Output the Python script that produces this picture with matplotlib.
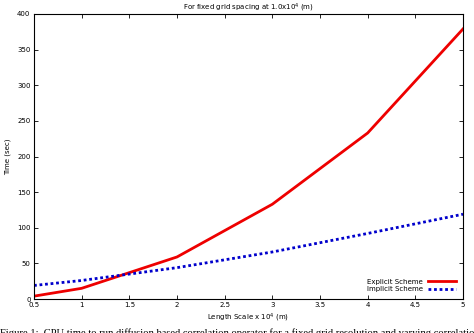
import matplotlib
matplotlib.use("Agg")
import matplotlib.pyplot as plt

length_scale = [0.5, 1, 2, 3, 4, 5]
explicit_time = [4, 15, 59, 133, 233, 379]
implicit_time = [19, 26, 44, 66, 92, 119]

xticks = [0.5, 1, 1.5, 2, 2.5, 3, 3.5, 4, 4.5, 5]
xticklabels = ["0.5", "1", "1.5", "2", "2.5", "3", "3.5", "4", "4.5", "5"]
yticks = [0, 50, 100, 150, 200, 250, 300, 350, 400]

fig = plt.figure(figsize=(4.74, 3.33), dpi=100)
ax = fig.add_axes([34/474, 34/333, 429/474, 285/333])

ax.plot(length_scale, explicit_time, color="#ee0000", lw=2, label="Explicit Scheme")
ax.plot(length_scale, implicit_time, color="#0000cc", lw=2, ls=(0, (1, 1)), label="Implicit Scheme")

ax.set_xlim(0.5, 5)
ax.set_ylim(0, 400)
ax.set_xticks(xticks)
ax.set_xticklabels(xticklabels)
ax.set_yticks(yticks)
ax.tick_params(direction="in", top=True, right=True, labelsize=5, length=3, width=0.6, pad=2.5)
for s in ax.spines.values():
    s.set_linewidth(0.8)

ax.set_xlabel("Length Scale x 10$^4$ (m)", fontsize=5, labelpad=2)
ax.set_ylabel("Time (sec)", fontsize=5, labelpad=4)
ax.set_title("For fixed grid spacing at 1.0x10$^4$ (m)", fontsize=5, pad=3)

leg = ax.legend(loc="lower right", fontsize=5, frameon=False, markerfirst=False,
                handlelength=4, borderaxespad=0.6, labelspacing=0.2)
for t in leg.get_texts():
    t.set_ha("right")

fig.text(0.0, 5/333, "Figure 1:  CPU time to run diffusion based correlation operator for a fixed grid resolution and varying correlation",
         fontsize=7.6, family="Liberation Serif", va="top", ha="left")

fig.savefig("out.png", dpi=100)
